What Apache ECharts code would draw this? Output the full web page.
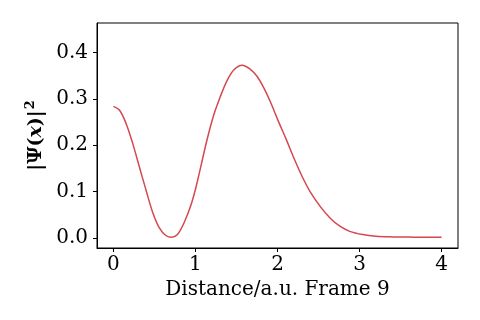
<!DOCTYPE html>
<html>
<head>
<meta charset="utf-8">
<script src="https://cdn.jsdelivr.net/npm/echarts@6/dist/echarts.min.js"></script>
<style>html,body{margin:0;padding:0;background:#fff;}#c{width:480px;height:320px;}</style>
</head>
<body>
<div id="c"></div>
<script>
const xValues = [0.0,0.073,0.154,0.235,0.315,0.396,0.477,0.558,0.639,0.71,0.78,0.86,0.94,1.0,1.063,1.144,1.224,1.305,1.387,1.467,1.568,1.669,1.75,1.83,1.913,2.01,2.11,2.21,2.315,2.397,2.52,2.64,2.76,2.88,3.04,3.2,3.4,3.6,3.8,4.0];
const psiSquared = [0.284,0.276,0.247,0.204,0.154,0.104,0.056,0.022,0.005,0.0012,0.007,0.032,0.068,0.105,0.152,0.214,0.266,0.306,0.340,0.3625,0.3727,0.364,0.349,0.325,0.294,0.252,0.211,0.168,0.127,0.100,0.068,0.043,0.025,0.014,0.007,0.0035,0.002,0.0015,0.001,0.001];
const xTicks = [0,1,2,3,4];
const yTicks = [0.0,0.1,0.2,0.3,0.4];
const xLabel = 'Distance/a.u. Frame 9';

const font = 'DejaVu Serif';
const chart = echarts.init(document.getElementById('c'), null, {renderer:'canvas'});
chart.setOption({
  animation:false,
  backgroundColor:'#fff',
  grid:{left:97,right:22,top:23,bottom:72,show:true,borderColor:'#000',borderWidth:1,backgroundColor:'transparent'},
  xAxis:{
    type:'value', min:-0.2, max:4.2,
    name:xLabel, nameLocation:'middle', nameGap:30,
    nameTextStyle:{fontFamily:font,fontSize:20,color:'#000'},
    axisLine:{show:true,onZero:false,lineStyle:{color:'#000',width:1}},
    axisTick:{show:true,length:4,customValues:xTicks,lineStyle:{color:'#000'}},
    axisLabel:{customValues:xTicks,margin:7,fontFamily:font,fontSize:20,color:'#000',formatter:v=>String(v)},
    splitLine:{show:false}
  },
  yAxis:{
    type:'value', min:-0.022, max:0.464,
    name:'{n||\u03A8(}{i|x}{n|)|}{s|2}', nameLocation:'middle', nameGap:47, nameRotate:90,
    nameTextStyle:{fontFamily:font,fontSize:19,color:'#000',
      rich:{
        n:{fontFamily:font,fontSize:19,fontWeight:'bold',color:'#000'},
        i:{fontFamily:font,fontSize:19,fontWeight:'bold',fontStyle:'italic',color:'#000'},
        s:{fontFamily:font,fontSize:13,fontWeight:'bold',color:'#000',verticalAlign:'top',padding:[0,0,11,1]}
      }},
    axisLine:{show:true,onZero:false,lineStyle:{color:'#000',width:1}},
    axisTick:{show:true,length:4,customValues:yTicks,lineStyle:{color:'#000'}},
    axisLabel:{customValues:yTicks,margin:9,fontFamily:font,fontSize:20,color:'#000',formatter:v=>v.toFixed(1)},
    splitLine:{show:false}
  },
  series:[{
    type:'line',
    data:xValues.map((x,i)=>[x,psiSquared[i]]),
    showSymbol:false, smooth:0.35,
    lineStyle:{color:'#d4484e',width:1.5},
    itemStyle:{color:'#d4484e'}
  }]
});
</script>
</body>
</html>
